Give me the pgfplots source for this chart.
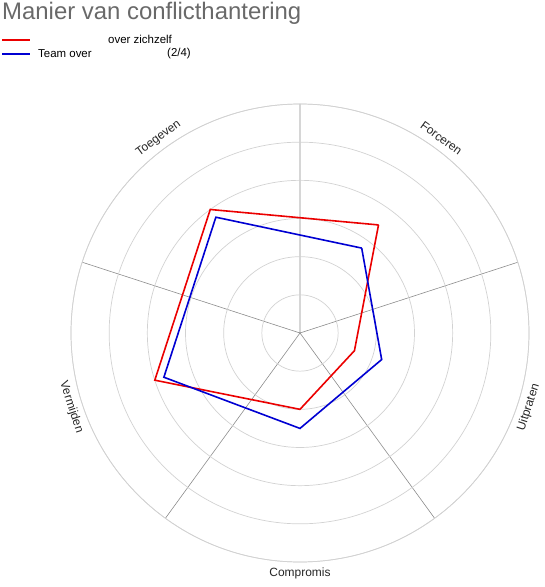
\documentclass[border=0pt]{standalone}
\usepackage{fontspec}
\setmainfont{Liberation Sans}
\usepackage{pgfplots}
\pgfplotsset{compat=1.18}
\usepgfplotslibrary{polar}
\definecolor{spoke}{RGB}{140,140,140}
\definecolor{ring}{RGB}{210,210,210}
\definecolor{titlegray}{RGB}{105,105,105}
\definecolor{selfred}{RGB}{235,0,0}
\definecolor{teamblue}{RGB}{0,0,210}
\begin{document}
\begin{tikzpicture}
\path[use as bounding box] (-300bp,-254bp) rectangle (245bp,333bp);
\node[anchor=north west, inner sep=0pt, text=titlegray, font=\fontsize{24}{28}\selectfont]
  at (-298bp,331bp) {Manier van conflicthantering};
\begin{polaraxis}[
    at={(0,0)}, anchor=center,
    scale only axis, clip=false,
    width=458bp, height=458bp,
    ymin=0, ymax=6,
    ytick={1,2,3,4,5,6}, yticklabels={},
    xtick={18,90,162,234,306}, xticklabels={},
    xmajorgrids, ymajorgrids,
    x grid style={spoke, line width=0.6bp},
    y grid style={ring, line width=0.7bp},
    axis line style={ring, line width=0.7bp},
    y axis line style={draw=none},
    major tick length=0pt,
]
\addplot[draw=selfred, line width=1.6bp] coordinates {(54,3.5) (342,1.5) (270,2) (198,4) (126,4) (54,3.5)};
\addplot[draw=teamblue, line width=1.6bp] coordinates {(54,2.75) (342,2.25) (270,2.5) (198,3.75) (126,3.75) (54,2.75)};
\node[rotate=-36, font=\fontsize{12}{14}\selectfont, text=black!85, inner sep=0pt] at (axis cs:54,6.3) {Forceren};
\node[rotate=72, font=\fontsize{12}{14}\selectfont, text=black!85, inner sep=0pt] at (axis cs:342,6.3) {Uitpraten};
\node[font=\fontsize{12}{14}\selectfont, text=black!85, inner sep=0pt] at (axis cs:270,6.29) {Compromis};
\node[rotate=-72, font=\fontsize{12}{14}\selectfont, text=black!85, inner sep=0pt] at (axis cs:198,6.3) {Vermijden};
\node[rotate=36, font=\fontsize{12}{14}\selectfont, text=black!85, inner sep=0pt] at (axis cs:126,6.3) {Toegeven};
\end{polaraxis}
% legend
\fill[selfred] (-298bp,292.2bp) rectangle (-270bp,294.2bp);
\fill[teamblue] (-298bp,278bp) rectangle (-270bp,280bp);
\begin{scope}[every node/.style={anchor=west, inner sep=0pt, font=\fontsize{11.5}{13}\selectfont}]
\node at (-192bp,293.2bp) {over zichzelf};
\node at (-262bp,279bp) {Team over};
\node at (-133bp,279bp) {(2/4)};
\end{scope}
\end{tikzpicture}
\end{document}
